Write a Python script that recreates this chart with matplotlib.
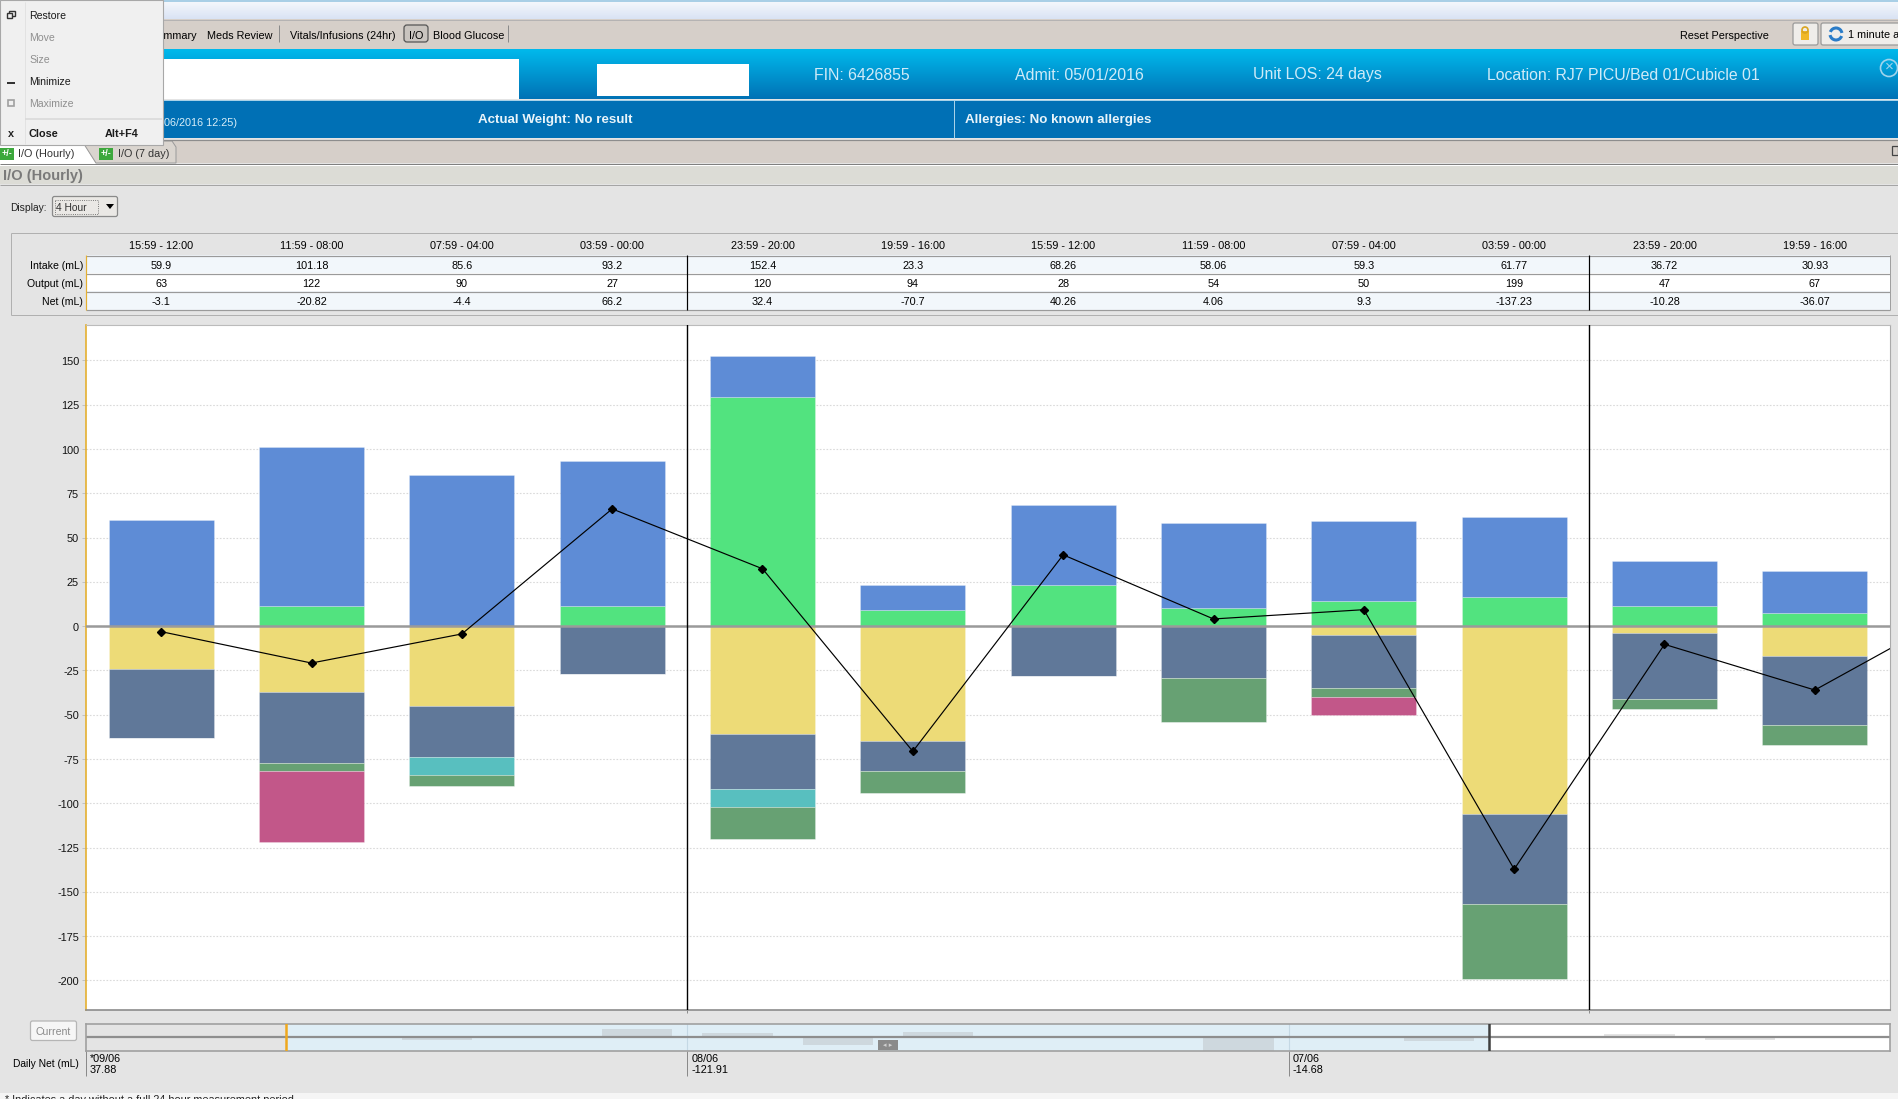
import numpy as np
import matplotlib
matplotlib.use('Agg')
import matplotlib.pyplot as plt
from matplotlib.patches import Rectangle, FancyBboxPatch, Circle, Polygon, Arc
from matplotlib.colors import LinearSegmentedColormap
from matplotlib.transforms import ScaledTranslation

plt.rcParams['font.family'] = ['Liberation Sans', 'DejaVu Sans']
plt.rcParams['axes.unicode_minus'] = False

# Datos
periods = ['15:59 - 12:00', '11:59 - 08:00', '07:59 - 04:00', '03:59 - 00:00',
           '23:59 - 20:00', '19:59 - 16:00', '15:59 - 12:00', '11:59 - 08:00',
           '07:59 - 04:00', '03:59 - 00:00', '23:59 - 20:00', '19:59 - 16:00']
intake = [59.9, 101.18, 85.6, 93.2, 152.4, 23.3, 68.26, 58.06, 59.3, 61.77, 36.72, 30.93]
output = [63, 122, 90, 27, 120, 94, 28, 54, 50, 199, 47, 67]
net = [-3.1, -20.82, -4.4, 66.2, 32.4, -70.7, 40.26, 4.06, 9.3, -137.23, -10.28, -36.07]
net_next = 10.7  # punto fuera de la ventana, estimado

in_green = [0, 11.5, 0, 11.5, 129.3, 9, 23, 10.3, 14.4, 16.3, 11.5, 7.6]
in_blue = [59.9, 89.68, 85.6, 81.7, 23.1, 14.3, 45.26, 47.76, 44.9, 45.47, 25.22, 23.33]
out_yellow = [24, 37, 45, 0, 61, 65, 0, 0, 5, 106, 4, 17]
out_slate = [39, 40, 29, 27, 31, 17, 28, 29, 30, 51, 37, 39]
out_teal = [0, 0, 10, 0, 10, 0, 0, 0, 0, 0, 0, 0]
out_green = [0, 5, 6, 0, 18, 12, 0, 25, 5, 42, 6, 11]
out_magenta = [0, 40, 0, 0, 0, 0, 0, 0, 10, 0, 0, 0]

y_ticks = list(range(150, -201, -25))

overview_before = [2, 3]
overview_after = [10.7, 28, -20, 4]

daily_labels = ['*09/06\n37.88', '08/06\n-121.91', '07/06\n-14.68']
daily_pos = [0, 6, 12]

W, H = 1898, 1099
fig = plt.figure(figsize=(W / 100, H / 100), dpi=100, facecolor='#E4E4E4')


def px_axes(x0, y0, x1, y1, **kw):
    return fig.add_axes([x0 / W, 1 - y1 / H, (x1 - x0) / W, (y1 - y0) / H], **kw)


# Capa de fondo en pixeles
bg = fig.add_axes([0, 0, 1, 1], zorder=0)
bg.set_xlim(0, W)
bg.set_ylim(H, 0)
bg.axis('off')


def rect(x0, y0, x1, y1, color, z=1, **kw):
    bg.add_patch(Rectangle((x0, y0), x1 - x0, y1 - y0, facecolor=color, edgecolor=kw.pop('ec', 'none'),
                           linewidth=kw.pop('lw', 0), zorder=z, **kw))


def grad(x0, y0, x1, y1, c0, c1, z=1):
    cmap = LinearSegmentedColormap.from_list('g', [c0, c1])
    bg.imshow(np.linspace(0, 1, 64).reshape(-1, 1), cmap=cmap, extent=(x0, x1, y1, y0),
              aspect='auto', zorder=z, interpolation='bilinear')


def txt(x, y, s, size=7.8, color='black', ha='left', weight='normal', z=5, **kw):
    return bg.text(x, y, s, fontsize=size, color=color, ha=ha, va='center', fontweight=weight, zorder=z, **kw)


def vline(x, y0, y1, color, lw=1, z=3):
    bg.plot([x, x], [y0, y1], color=color, lw=lw * 0.72, zorder=z, solid_capstyle='butt')


def hline(y, x0, x1, color, lw=1, z=3):
    bg.plot([x0, x1], [y, y], color=color, lw=lw * 0.72, zorder=z, solid_capstyle='butt')


# Franjas superiores
rect(0, 0, W, 2, '#A9CFE6')
grad(0, 2, W, 19, '#F4F7FC', '#D9E3F4')
rect(0, 19, W, 49, '#D6CFC9')
hline(19.5, 0, W, '#B5B3B3', 1)
grad(0, 49, W, 99, '#00B9EC', '#0072B5')
hline(99.5, 0, W, '#A8D2E8', 1)
rect(0, 100, W, 138, '#0070B5')
rect(0, 138, W, 140, '#E4E4E4')
hline(140, 0, W, '#8D8D8D', 1.2)
rect(0, 141, W, 163, '#D6CFC9')
hline(163.5, 0, W, '#808080', 1)
rect(0, 164, W, 166, '#FFFFFF')
rect(0, 166, W, 184, '#DCDCD6')
hline(184.5, 0, W, '#A5A5A5', 1)
rect(0, 1093, W, H, '#F5F5F5')

# Barra de herramientas
txt(197, 36, 'Summary', ha='right')
txt(207, 36, 'Meds Review')
vline(279, 25, 42, '#8A8A8A')
txt(290, 36, 'Vitals/Infusions (24hr)')
bg.add_patch(FancyBboxPatch((404, 25), 24, 17, boxstyle='round,pad=0,rounding_size=3', fc='#C9C4BF',
                            ec='#555555', lw=0.9, zorder=3))
txt(416, 36, 'I/O', ha='center')
txt(433, 36, 'Blood Glucose')
vline(508, 25, 42, '#8A8A8A')
txt(1680, 36, 'Reset Perspective')
bg.add_patch(FancyBboxPatch((1793, 23), 25, 22, boxstyle='round,pad=0,rounding_size=2', fc='#EFEDEA',
                            ec='#9A9A9A', lw=0.9, zorder=3))
rect(1801, 31, 1809, 40, '#F0B828', z=4)
bg.add_patch(Circle((1805, 30), 3, fc='none', ec='#D9A520', lw=1.2, zorder=4))
bg.add_patch(FancyBboxPatch((1821, 23), 90, 22, boxstyle='round,pad=0,rounding_size=2', fc='#EFEDEA',
                            ec='#9A9A9A', lw=0.9, zorder=3))
bg.add_patch(Arc((1836, 34), 12, 12, theta1=200, theta2=350, ec='#2A7CC8', lw=2.2, zorder=4))
bg.add_patch(Arc((1836, 34), 12, 12, theta1=20, theta2=170, ec='#2A7CC8', lw=2.2, zorder=4))
txt(1848, 35, '1 minute ago')

# Banner
banner_color = '#CFEBF8'
txt(814, 75, 'FIN: 6426855', size=11.4, color=banner_color)
txt(1015, 75, 'Admit: 05/01/2016', size=11.4, color=banner_color)
txt(1253, 75, 'Unit LOS: 24 days', size=11.4, color=banner_color)
txt(1487, 75, 'Location: RJ7 PICU/Bed 01/Cubicle 01', size=11.4, color=banner_color)
rect(163, 59, 519, 99, 'white', z=2)
rect(597, 64, 749, 96, 'white', z=2)
bg.add_patch(Circle((1889, 68), 8.5, fc='none', ec='#9FD4EC', lw=1.2, zorder=3))
txt(1889, 67, '×', size=11, color='#9FD4EC', ha='center')

txt(164, 123, '06/2016 12:25)', color='#D8EEF8')
txt(478, 120, 'Actual Weight: No result', size=9.6, color='#E8F4FA', weight='bold')
vline(954.5, 100, 138, '#A8D2E8')
txt(965, 120, 'Allergies: No known allergies', size=9.6, color='#E8F4FA', weight='bold')

# Pestanas
bg.add_patch(Polygon([(0, 141), (82, 141), (96, 164), (0, 164)], fc='white', ec='none', zorder=2))
bg.add_patch(Polygon([(82, 141), (172, 141), (176, 147), (176, 163), (96, 163)], fc='#DAD5CF', ec='#9A9A9A',
                     lw=0.7, zorder=2))
rect(0, 148, 14, 160, '#3CA83C', z=3)
txt(7, 154, '+/-', size=6.5, color='white', ha='center', weight='bold')
txt(18, 154, 'I/O (Hourly)', color='#333333')
rect(99, 148, 113, 160, '#3CA83C', z=3)
txt(106, 154, '+/-', size=6.5, color='white', ha='center', weight='bold')
txt(118, 154, 'I/O (7 day)', color='#333333')
rect(1892, 146, 1898, 155, 'none', ec='#444444', lw=0.9, z=3)
txt(3, 176, 'I/O (Hourly)', size=10.5, color='#7A7A7A', weight='bold')

txt(10, 208, 'Display:', size=7.4, color='#222222')
bg.add_patch(FancyBboxPatch((52.5, 196.5), 65, 20, boxstyle='round,pad=0,rounding_size=2', fc='#EAE8E5',
                            ec='#8A8A8A', lw=0.9, zorder=3))
rect(55, 200, 98, 214, 'none', ec='#555555', lw=0.6, z=4, linestyle=':')
txt(56, 208, '4 Hour', size=7.4, color='#333333')
bg.add_patch(Polygon([(106, 204), (114, 204), (110, 209)], fc='black', ec='none', zorder=4))

# Menu de ventana
rect(0, 0, 163, 145, '#F0F0F0', z=6, ec='#A8A8A8', lw=0.8)
vline(25, 2, 144, '#E2E2E2', z=7)
hline(118.5, 25, 162, '#D8D8D8', 1.5, z=7)
menu_items = [('Restore', 16, '#1A1A1A'), ('Move', 38, '#8F8F8F'), ('Size', 60, '#8F8F8F'),
              ('Minimize', 82, '#1A1A1A'), ('Maximize', 104, '#8F8F8F')]
for label, y, col in menu_items:
    txt(29, y, label, color=col, z=8, size=7.6)
txt(29, 134, 'Close', color='#1A1A1A', weight='bold', z=8)
txt(105, 134, 'Alt+F4', color='#1A1A1A', weight='bold', z=8)
rect(9, 11, 15, 16, 'none', ec='#333333', lw=1, z=8)
rect(7, 13, 12, 18, '#F0F0F0', ec='#333333', lw=1, z=8)
rect(7, 82, 15, 84, '#333333', z=8)
rect(8, 100, 14, 106, 'none', ec='#A0A0A0', lw=1.2, z=8)
txt(11, 134, 'x', color='#222222', weight='bold', ha='center', z=8)

# Tabla
tx0, tx1 = 86, 1890
step = (tx1 - tx0) / 12
rect(11, 233, W, 315, '#E4E4E4', ec='none')
hline(232.5, 11, W, '#B0B0B0', 1)
hline(315, 11, W, '#B0B0B0', 1)
vline(11, 233, 315, '#B0B0B0')
rect(tx0, 255, tx1, 273, '#F2F7FB')
rect(tx0, 273, tx1, 291, '#FFFFFF')
rect(tx0, 291, tx1, 310, '#F2F7FB')
for y in [255.5, 273.5, 291.5, 310]:
    hline(y, tx0, tx1, '#9A9A9A', 1.2)
vline(tx0, 255, 310, '#E5B030', 1.2)
vline(tx1, 255, 310, '#A0A0A0')
vline(tx0 + 4 * step, 255, 310, 'black', 1.2)
vline(tx0 + 10 * step, 255, 310, 'black', 1.2)
for lab, y in zip(['Intake (mL)', 'Output (mL)', 'Net (mL)'], [266, 284, 302]):
    txt(83, y, lab, ha='right', size=7.6)
for i, p in enumerate(periods):
    cx = tx0 + (i + 0.5) * step
    txt(cx, 246, p, ha='center')
    txt(cx, 266, f'{intake[i]:g}', ha='center')
    txt(cx, 284, f'{output[i]:g}', ha='center')
    txt(cx, 302, f'{net[i]:g}', ha='center')

# Grafico principal
ax = px_axes(tx0, 325.2, tx1, 1010, zorder=2, facecolor='white')
x = np.arange(12)
width = 0.70
edge = (1, 1, 1, 0.25)

bottom = np.zeros(12)
for vals, col in [(in_green, '#52E37F'), (in_blue, '#5E8CD6')]:
    ax.bar(x, vals, width, bottom=bottom, color=col, edgecolor=edge, linewidth=0.7, zorder=3)
    bottom += np.array(vals)

bottom = np.zeros(12)
for vals, col in [(out_yellow, '#EDDB77'), (out_slate, '#607899'), (out_teal, '#58BFBF'),
                  (out_green, '#67A173'), (out_magenta, '#C25789')]:
    ax.bar(x, -np.array(vals), width, bottom=bottom, color=col, edgecolor=edge, linewidth=0.7, zorder=3)
    bottom -= np.array(vals)

ax.axhline(0, color='#9A9A9A', lw=1.8, zorder=4)
ax.axvline(3.5, color='black', lw=1.0, zorder=4)
ax.axvline(9.5, color='black', lw=1.0, zorder=4)
ax.plot(list(x) + [12], net + [net_next], color='black', lw=0.85, marker='D', markersize=3.8, zorder=5)

ax.set_xlim(-0.5, 11.5)
ax.set_ylim(-216.7, 169.9)
ax.set_yticks(y_ticks)
ax.set_xticks([])
ax.tick_params(axis='y', length=3, width=0.6, color='#BBBBBB', labelsize=7.8, pad=2, labelcolor='#111111')
for lab in ax.get_yticklabels():
    lab.set_transform(lab.get_transform() + ScaledTranslation(0, -0.4 / 72, fig.dpi_scale_trans))
ax.grid(axis='y', color='#DADADA', linestyle=(0, (1.5, 1.5)), linewidth=0.8, zorder=1)
ax.set_axisbelow(True)
ax.spines['left'].set_color('#E5B030')
ax.spines['left'].set_linewidth(1.2)
ax.spines['bottom'].set_color('#8C8C8C')
ax.spines['bottom'].set_linewidth(1.2)
ax.spines['top'].set_color('#BBBBBB')
ax.spines['right'].set_color('#AAAAAA')
vline(tx0 + 4 * step, 1010, 1013, '#8C8C8C')
vline(tx0 + 10 * step, 1010, 1013, '#8C8C8C')

# Vista general
ov_vals = overview_before + net + overview_after
ov = px_axes(tx0, 1023.6, tx1, 1050.7, zorder=2, facecolor='white')
ov.axvspan(0, 2, color='#E4E4E4', zorder=0, lw=0)
ov.axvspan(2, 14, color='#DFEEF6', zorder=0, lw=0)
ov.bar(np.arange(18) + 0.5, ov_vals, 0.70, color='#A8A8A8', alpha=0.3, zorder=1)
ov.axhline(0, color='#8E8E8E', lw=1.6, zorder=2)
ov.axvline(2, color='#EFA81E', lw=1.8, zorder=3)
ov.axvline(14, color='#3F3F3F', lw=1.8, zorder=3)
for d in daily_pos[1:]:
    ov.axvline(d, color='#C4D8E4', lw=0.8, zorder=1)
ov.set_xlim(0, 18)
ov.set_ylim(-115, 115)
ov.set_xticks([])
ov.set_yticks([])
for s in ov.spines.values():
    s.set_color('#A0A0A0')
    s.set_linewidth(1.2)

bg.add_patch(FancyBboxPatch((30.5, 1021), 46, 19.5, boxstyle='round,pad=0,rounding_size=2', fc='#F6F6F6',
                            ec='#B5B5B5', lw=0.9, zorder=3))
txt(53.5, 1032, 'Current', size=7.6, color='#8A8A8A', ha='center')
txt(79, 1064, 'Daily Net (mL)', size=7.4, ha='right')
for d, lab in zip(daily_pos, daily_labels):
    dx = tx0 + d * (tx1 - tx0) / 18
    vline(dx, 1051, 1076, '#8A8A8A')
    date, value = lab.split('\n')
    txt(dx + 4, 1059, date)
    txt(dx + 4, 1070, value)

handle = fig.add_axes([878 / W, 1 - 1050 / H, 20 / W, 10 / H], zorder=4, facecolor='#8A8A8A')
handle.set_xticks([])
handle.set_yticks([])
for s in handle.spines.values():
    s.set_visible(False)
handle.text(0.5, 0.5, '◂ ▸', color='#D0D0D0', fontsize=5, ha='center', va='center', transform=handle.transAxes,
            family='DejaVu Sans')

txt(5, 1100, '* Indicates a day without a full 24 hour measurement period', color='#222222')

fig.savefig('out.png', dpi=100, facecolor=fig.get_facecolor())
